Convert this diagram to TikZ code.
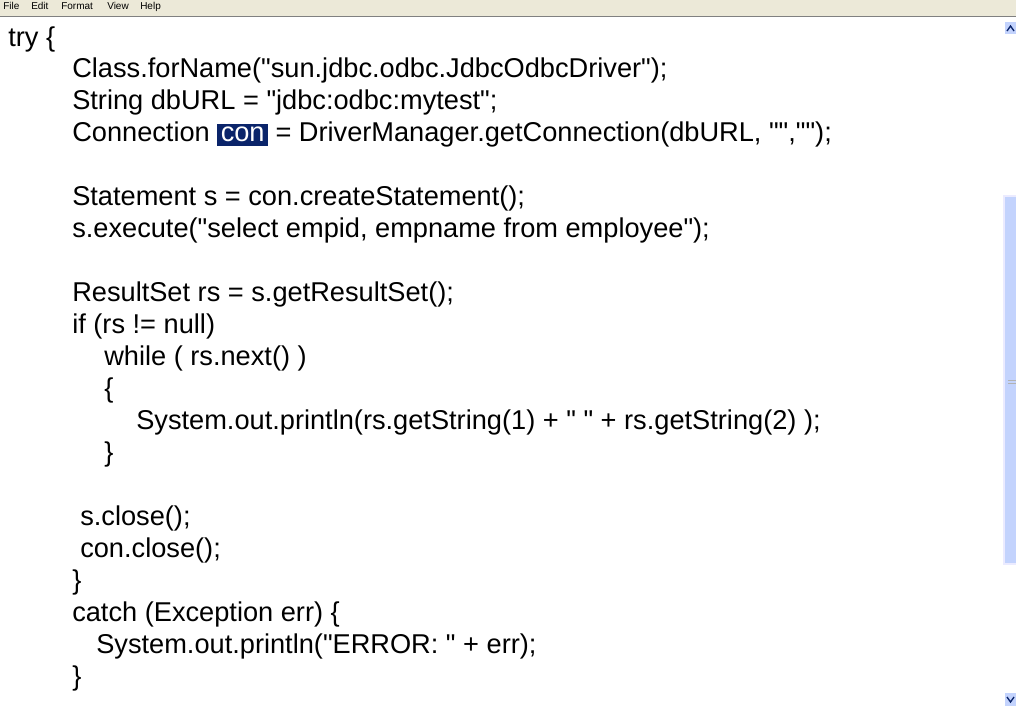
\documentclass[tikz,border=0pt]{standalone}
\usepackage{fontspec}
\setmainfont{Liberation Sans}[Ligatures=TeXOff]
\definecolor{hl}{HTML}{0A246A}
\definecolor{menubg}{HTML}{ECE9D8}
\definecolor{thumb}{HTML}{C3D3FD}
\newcommand{\dq}{\symbol{34}}
\newcommand{\hlcon}{{\setlength\fboxsep{2.5pt}\colorbox{hl}{\textcolor{white}{con}}}}
\begin{document}
\begin{tikzpicture}[x=0.75pt,y=-0.75pt,
  code/.style={anchor=base west,inner sep=0pt,font=\fontsize{20.4}{22}\selectfont},
  menu/.style={anchor=base west,inner sep=0pt,font=\fontsize{7.5}{8}\selectfont}]
\fill[white] (0,0) rectangle (1016,706);
\useasboundingbox (0,0) rectangle (1016,706);
\fill[menubg] (0,0) rectangle (1016,16);
\draw[gray] (0,16.5) -- (1016,16.5);
\node[menu] (m1) at (3,10) {File};
\node[menu] (m2) at (31,10) {Edit};
\node[menu] (m3) at (61,10) {Format};
\node[menu] (m4) at (107,10) {View};
\node[menu] (m5) at (140,10) {Help};
% scrollbar
\fill[white!92!blue] (1003,195) rectangle (1016,565);
\fill[thumb] (1005,197) rectangle (1016,563);
\draw[gray!60] (1008,380) -- (1016,380) (1008,383) -- (1016,383);
\fill[thumb] (1005,22) rectangle (1016,34);
\draw[hl,line width=1pt] (1007,31) -- (1010.5,26) -- (1014,31);
\fill[thumb] (1005,693) rectangle (1016,706);
\draw[hl,line width=1pt] (1007,697) -- (1010.5,702) -- (1014,697);
% code
\node[code] (l1) at (8,47) {try \{};
\node[code] (l2) at (72,78) {Class.forName(\dq sun.jdbc.odbc.JdbcOdbcDriver\dq);};
\node[code] (l3) at (72,110) {String dbURL = \dq jdbc:odbc:mytest\dq;};
\node[code] (l4) at (72,142) {Connection \hlcon{} = DriverManager.getConnection(dbURL, \dq\dq,\dq\dq);};
\node[code] (l5) at (72,205) {Statement s = con.createStatement();};
\node[code] (l6) at (72,237) {s.execute(\dq select empid, empname from employee\dq);};
\node[code] (l7) at (72,301) {ResultSet rs = s.getResultSet();};
\node[code] (l8) at (72,333) {if (rs != null)};
\node[code] (l9) at (104,365) {while ( rs.next() )};
\node[code] (l10) at (104,397) {\{};
\node[code] (l11) at (136,429) {System.out.println(rs.getString(1) + \dq\ \dq{} + rs.getString(2) );};
\node[code] (l12) at (104,461) {\}};
\node[code] (l13) at (80,525) {s.close();};
\node[code] (l14) at (80,557) {con.close();};
\node[code] (l15) at (72,589) {\}};
\node[code] (l16) at (72,621) {catch (Exception err) \{};
\node[code] (l17) at (96,653) {System.out.println(\dq ERROR: \dq{} + err);};
\node[code] (l18) at (72,685) {\}};
\end{tikzpicture}
\end{document}
